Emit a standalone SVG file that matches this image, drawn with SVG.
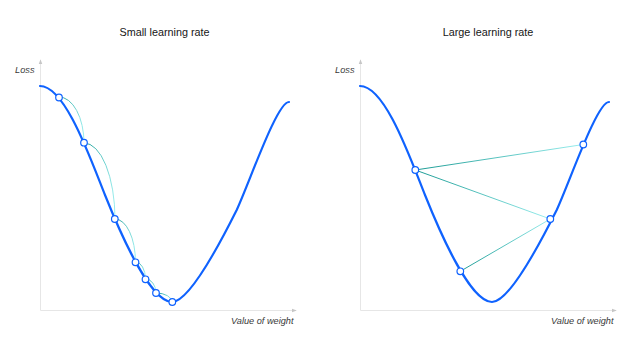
<svg xmlns="http://www.w3.org/2000/svg" width="640" height="359" viewBox="0 0 640 359">
  <defs>
    <linearGradient id="step" x1="0" y1="0" x2="1" y2="0">
      <stop offset="0" stop-color="#1a9a93"/>
      <stop offset="1" stop-color="#9aeeee"/>
    </linearGradient>
    <marker id="ah" viewBox="0 0 6 6" refX="5" refY="3" markerWidth="5" markerHeight="5" orient="auto" markerUnits="userSpaceOnUse">
      <path d="M0,0.8 L6,3 L0,5.2 Z" fill="#c6c6c6"/>
    </marker>
  </defs>
  <style>
    .title{font-family:"Liberation Sans","Noto Sans",sans-serif;font-size:10.8px;fill:#161616;text-anchor:middle}
    .ax{font-family:"Liberation Sans","Noto Sans",sans-serif;font-size:9.2px;font-style:italic;fill:#393939;text-anchor:end}
    .axis{stroke:#e6e6e6;stroke-width:1;fill:none}
    .curve{stroke:#0f62fe;stroke-width:2.2;fill:none;stroke-linecap:round}
    .step{stroke:url(#step);stroke-width:1;fill:none}
    .pt{fill:#ffffff;stroke:#0f62fe;stroke-width:1.2}
  </style>
  <rect width="640" height="359" fill="#ffffff"/>

  <g id="panel-small">
    <text class="title" x="164.5" y="36">Small learning rate</text>
    <g id="axes-small">
      <line class="axis" x1="40.5" y1="310.5" x2="40.5" y2="60" marker-end="url(#ah)"/>
      <line class="axis" x1="40.5" y1="310.5" x2="296" y2="310.5" marker-end="url(#ah)"/>
      <text class="ax" x="34.5" y="73">Loss</text>
      <text class="ax" x="293.5" y="324">Value of weight</text>
    </g>
    <path id="curve-small" class="curve" d="M40,86 C65,86 90,157.5 105,195 C119,230 150,302 172,302 C190,302 224.7,234 236.7,210 C250.7,179.2 277,102 289,102"/>
    <g id="steps-small">
      <path class="step" d="M59,97 A25,46 0 0 1 84,143"/>
      <path class="step" d="M84,143 A31,76 0 0 1 115,219"/>
      <path class="step" d="M115,219 A20.5,43 0 0 1 135.5,262"/>
      <path class="step" d="M135.5,262 A10,17 0 0 1 145.5,279"/>
      <path class="step" d="M145.5,279 A10.5,14 0 0 1 156,293"/>
      <path class="step" d="M156,293 A16,9 0 0 1 172,302"/>
    </g>
    <g id="points-small">
      <circle class="pt" cx="59" cy="97.5" r="3.3"/>
      <circle class="pt" cx="84" cy="142.7" r="3.3"/>
      <circle class="pt" cx="114.8" cy="219" r="3.3"/>
      <circle class="pt" cx="135.5" cy="262.3" r="3.3"/>
      <circle class="pt" cx="145.5" cy="279.3" r="3.3"/>
      <circle class="pt" cx="156" cy="293" r="3.3"/>
      <circle class="pt" cx="172.3" cy="302" r="3.3"/>
    </g>
  </g>

  <g id="panel-large">
    <text class="title" x="488" y="36">Large learning rate</text>
    <g id="axes-large">
      <line class="axis" x1="360.5" y1="310.5" x2="360.5" y2="60" marker-end="url(#ah)"/>
      <line class="axis" x1="360.5" y1="310.5" x2="616" y2="310.5" marker-end="url(#ah)"/>
      <text class="ax" x="354.5" y="73">Loss</text>
      <text class="ax" x="613.5" y="324">Value of weight</text>
    </g>
    <path id="curve-large" class="curve" d="M360,86 C385,86 410,157.5 425,195 C439,230 470,302 492,302 C510,302 544.7,234 556.7,210 C570.7,179.2 597,102 609,102"/>
    <g id="steps-large">
      <line class="step" x1="415.3" y1="170" x2="583.3" y2="144.5"/>
      <line class="step" x1="415.3" y1="170" x2="550.3" y2="219"/>
      <line class="step" x1="460.3" y1="271.3" x2="550.3" y2="219"/>
    </g>
    <g id="points-large">
      <circle class="pt" cx="415.3" cy="170" r="3.3"/>
      <circle class="pt" cx="583.3" cy="144.5" r="3.3"/>
      <circle class="pt" cx="550.3" cy="219" r="3.3"/>
      <circle class="pt" cx="460.3" cy="271.3" r="3.3"/>
    </g>
  </g>
</svg>
